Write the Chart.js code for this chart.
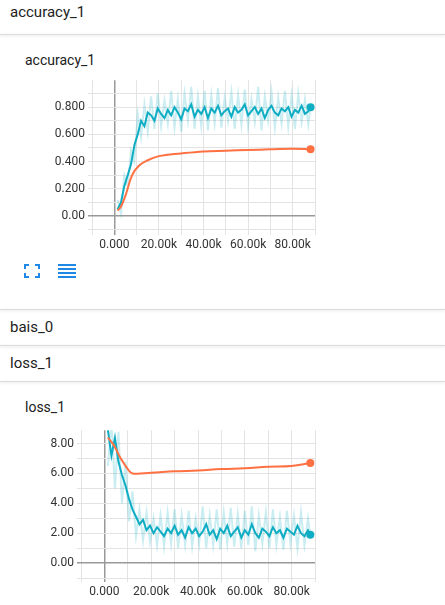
<!DOCTYPE html>
<html>
<head>
<meta charset="utf-8">
<script src="https://cdn.jsdelivr.net/npm/chart.js@4"></script>
<style>
  body { margin: 0; width: 445px; height: 605px; background: #fff; font-family: Roboto, "Noto Sans", sans-serif; position: relative; overflow: hidden; }
  .bar { position: absolute; left: 0; width: 445px; font-size: 15px; color: #212121; padding-left: 10px; box-sizing: border-box; }
  .sep { position: absolute; left: 0; width: 445px; height: 1px; background: #ddd; box-shadow: 0 1px 3px rgba(0,0,0,0.15); }
  .title { position: absolute; left: 25px; font-size: 14px; color: #212121; }
  .box { position: absolute; }
  .icon { position: absolute; color: #1e88e5; }
</style>
</head>
<body>
<div class="bar" style="top:3px">accuracy_1</div>
<div class="sep" style="top:34px"></div>
<div class="title" style="top:52px">accuracy_1</div>
<div class="box" style="left:40px;top:70px;width:290px;height:190px"><canvas id="acc"></canvas></div>
<svg class="icon" style="left:24px;top:264px" width="16" height="14" viewBox="0 0 16 14" fill="none" stroke="#1e88e5" stroke-width="2">
  <path d="M1 5V1h4M11 1h4v4M15 9v4h-4M5 13H1V9"/>
</svg>
<svg class="icon" style="left:58px;top:264px" width="18" height="14" viewBox="0 0 18 14" fill="#1e88e5">
  <rect x="0" y="0" width="18" height="2"/><rect x="0" y="4" width="18" height="2"/><rect x="0" y="8" width="18" height="2"/><rect x="0" y="12" width="18" height="2"/>
</svg>
<div class="sep" style="top:309px"></div>
<div class="bar" style="top:318px">bais_0</div>
<div class="sep" style="top:345px"></div>
<div class="bar" style="top:354px">loss_1</div>
<div class="sep" style="top:381px"></div>
<div class="title" style="top:399px">loss_1</div>
<div class="box" style="left:30px;top:420px;width:300px;height:185px"><canvas id="loss"></canvas></div>
<script>
const steps = [1.5,3,4.5,6,7.5,9,10.5,12,13.5,15,16.5,18,19.5,21,22.5,24,25.5,27,28.5,30,31.5,33,34.5,36,37.5,39,40.5,42,43.5,45,46.5,48,49.5,51,52.5,54,55.5,57,58.5,60,61.5,63,64.5,66,67.5,69,70.5,72,73.5,75,76.5,78,79.5,81,82.5,84,85.5,87,88];
const accSmooth = [0.05,0.10,0.22,0.30,0.38,0.52,0.60,0.70,0.66,0.76,0.74,0.70,0.79,0.75,0.72,0.78,0.74,0.80,0.76,0.71,0.79,0.77,0.82,0.73,0.78,0.75,0.80,0.72,0.79,0.76,0.81,0.74,0.77,0.79,0.73,0.80,0.76,0.78,0.82,0.74,0.77,0.80,0.75,0.79,0.72,0.78,0.81,0.76,0.74,0.79,0.77,0.80,0.73,0.78,0.76,0.81,0.75,0.77,0.80];
const accRaw = [0.12,0.02,0.30,0.22,0.48,0.40,0.75,0.58,0.82,0.62,0.88,0.64,0.90,0.66,0.85,0.68,0.92,0.65,0.86,0.62,0.90,0.70,0.95,0.64,0.88,0.66,0.92,0.63,0.89,0.68,0.94,0.65,0.87,0.70,0.91,0.64,0.89,0.67,0.93,0.66,0.86,0.69,0.95,0.63,0.88,0.70,0.91,0.65,0.87,0.68,0.92,0.66,0.89,0.64,0.90,0.69,0.86,0.67,0.80];
const accOrangeSteps = [1.5,3,5,8,11,15,20,30,40,50,60,70,80,88];
const accOrange = [0.04,0.07,0.15,0.30,0.37,0.41,0.44,0.46,0.475,0.48,0.485,0.49,0.495,0.49];
const lossSmooth = [8.9,7.2,8.4,6.8,5.9,5.2,4.3,3.6,3.1,2.6,2.9,2.2,2.5,2.0,2.4,2.1,1.8,2.3,2.0,2.5,1.9,2.2,1.7,2.4,2.0,2.3,1.8,2.1,2.6,1.9,2.2,1.6,2.3,2.0,2.5,1.8,2.1,2.4,1.7,2.2,1.9,2.6,2.0,1.7,2.3,2.1,1.8,2.4,2.0,2.2,1.7,2.3,2.1,1.9,2.5,2.0,1.8,2.2,1.9];
const lossRaw = [6.5,9.5,5.0,8.8,4.0,6.8,2.8,4.8,1.8,3.6,1.5,3.4,1.4,3.0,1.2,3.2,1.1,3.4,1.3,3.6,1.0,3.2,1.2,3.5,1.1,3.0,1.3,3.8,1.0,3.2,1.2,3.6,0.9,3.4,1.3,3.7,1.1,3.3,1.0,3.5,1.2,3.8,0.8,3.2,1.3,3.4,1.0,3.6,1.2,3.1,0.9,3.5,1.3,3.2,1.0,3.4,1.2,3.0,1.9];
const lossOrangeSteps = [1.5,4,7,10,12,20,30,40,50,60,70,80,88];
const lossOrange = [8.4,7.9,7.0,6.3,6.0,6.05,6.15,6.2,6.3,6.35,6.45,6.5,6.7];

const cyan = '#0fadc4', cyanLight = 'rgba(15,173,196,0.22)', orange = '#ff7043';
const pts = (xs, ys) => xs.map((x, i) => ({ x: x * 1000, y: ys[i] }));

function makeChart(id, raw, smooth, oSteps, oVals, y) {
  new Chart(document.getElementById(id), {
    type: 'line',
    data: {
      datasets: [
        { data: pts(oSteps, oVals), borderColor: orange, borderWidth: 2, tension: 0.4,
          pointRadius: oVals.map((v, i) => i === oVals.length - 1 ? 4 : 0), pointBackgroundColor: orange, pointBorderWidth: 0 },
        { data: pts(steps, smooth), borderColor: cyan, borderWidth: 2,
          pointRadius: smooth.map((v, i) => i === smooth.length - 1 ? 4 : 0), pointBackgroundColor: cyan, pointBorderWidth: 0 },
        { data: pts(steps, raw), borderColor: cyanLight, borderWidth: 2, pointRadius: 0 }
      ]
    },
    options: {
      responsive: true, maintainAspectRatio: false, animation: false,
      layout: { padding: { top: y.padTop, right: 15 } },
      plugins: { legend: { display: false }, tooltip: { enabled: false } },
      scales: {
        x: {
          type: 'linear', min: -10000, max: 90000,
          afterBuildTicks: a => { a.ticks = [-10,0,10,20,30,40,50,60,70,80,90].map(v => ({ value: v * 1000 })); },
          afterFit: a => { a.height = y.xh; },
          ticks: { autoSkip: false, maxRotation: 0, color: '#333', font: { size: 12, family: 'Roboto' },
            callback: v => v === 0 ? '0.000' : (v > 0 && v % 20000 === 0 && v <= 80000 ? (v / 1000).toFixed(2) + 'k' : '') },
          grid: { color: c => c.tick.value === 0 ? '#999' : '#e3e3e3', lineWidth: c => c.tick.value === 0 ? 1.5 : 1, tickLength: 4 },
          border: { display: false }
        },
        y: {
          min: y.min, max: y.max,
          afterBuildTicks: a => { a.ticks = y.grid.map(v => ({ value: v })); },
          afterFit: a => { a.width = y.yw; },
          ticks: { autoSkip: false, color: '#333', font: { size: 12, family: 'Roboto' }, callback: y.label },
          grid: { color: c => Math.abs(c.tick.value) < 1e-9 ? '#999' : '#e3e3e3', lineWidth: c => Math.abs(c.tick.value) < 1e-9 ? 1.5 : 1, tickLength: 4 },
          border: { display: false }
        }
      }
    }
  });
}

makeChart('acc', accRaw, accSmooth, accOrangeSteps, accOrange, {
  min: -0.11, max: 0.998, padTop: 9, xh: 29, yw: 52,
  grid: [-0.1,0,0.1,0.2,0.3,0.4,0.5,0.6,0.7,0.8,0.9],
  label: v => { const r = Math.round(v * 10); return r === 0 ? '0.00' : (r > 0 && r % 2 === 0 ? v.toFixed(3) : ''); }
});
makeChart('loss', lossRaw, lossSmooth, lossOrangeSteps, lossOrange, {
  min: -1.0, max: 8.9, padTop: 6, xh: 27, yw: 51,
  grid: [-1,0,1,2,3,4,5,6,7,8],
  label: v => (v >= 0 && v % 2 === 0) ? v.toFixed(2) : ''
});
</script>
</body>
</html>
